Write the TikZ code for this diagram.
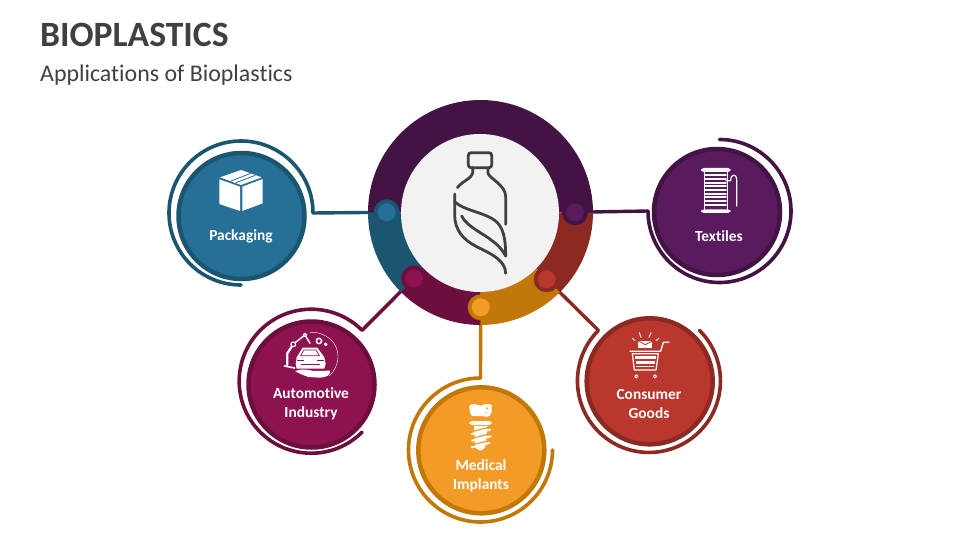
\documentclass[tikz,border=0pt]{standalone}
\usepackage{fontspec}
\setmainfont{Carlito}[Ligatures=NoCommon]
\definecolor{bluef}{HTML}{266F97}\definecolor{blued}{HTML}{1C5570}
\definecolor{maroonf}{HTML}{8F1250}\definecolor{maroond}{HTML}{6D0F3E}
\definecolor{orangef}{HTML}{F29B26}\definecolor{oranged}{HTML}{C17809}
\definecolor{redf}{HTML}{BA372D}\definecolor{redd}{HTML}{8A2A22}
\definecolor{purplef}{HTML}{5A1A5E}\definecolor{purpled}{HTML}{431343}
\definecolor{hubgrey}{HTML}{F2F2F2}\definecolor{ink}{HTML}{404040}
\tikzset{
  disc/.style={circle,draw=#1d,fill=#1f,line width=4.5pt,minimum size=126pt,inner sep=0pt},
  swirl/.style={draw=#1d,line width=3.6pt,line cap=round},
  wire/.style={draw=#1d,line width=3.4pt},
  capdot/.style={circle,fill=#1d,minimum size=26pt,inner sep=0pt},
  dot/.style={circle,fill=#1f,minimum size=18pt,inner sep=0pt},
  lab/.style={text=white,font=\fontsize{15.4}{19}\selectfont\bfseries,align=center},
  bottle/.style={draw=ink,line width=2.8pt,line cap=round,line join=round},
  ico/.style={draw=white,line cap=round,line join=round},
}
\newcommand{\wedgefill}[3]{\fill[#1] (480.5,212.5) ++(#2:112.5pt) arc[start angle=#2,end angle=#3,radius=112.5pt] -- (480.5,212.5) -- cycle;}
\begin{document}
\begin{tikzpicture}[x=1pt,y=1pt,yscale=-1]
\useasboundingbox (0,0) rectangle (960,540);
% titles
\node[anchor=base west,inner sep=0pt,text=ink,font=\fontsize{35.6}{38}\selectfont\bfseries] (title) at (40,47) {BIOPLASTICS};
\node[anchor=base west,inner sep=0pt,text=ink,font=\fontsize{23.9}{26}\selectfont] (subtitle) at (40,82) {Applications of Bioplastics};
% named ends
\coordinate (endP) at (313,213);
\coordinate (endA) at (362.1,330.3);
\coordinate (endM) at (480.5,378);
\coordinate (endC) at (598.4,330.4);
\coordinate (endT) at (648,211);
\coordinate (capP) at (386.7,212.3);
\coordinate (capA) at (414,278.3);
\coordinate (capM) at (480.7,307.3);
\coordinate (capC) at (546.7,279.3);
\coordinate (capT) at (575,212.3);
% connectors
\draw[wire=blue] (capP) -- (endP);
\draw[wire=maroon] (capA) -- (endA);
\draw[wire=orange] (capM) -- (endM);
\draw[wire=red] (capC) -- (endC);
\draw[wire=purple] (capT) -- (endT);
% ring
\wedgefill{purpled}{0}{-180}
\wedgefill{blued}{-180}{-225}
\wedgefill{maroond}{-225}{-270}
\wedgefill{oranged}{-270}{-315}
\wedgefill{redd}{-315}{-360}
\node[capdot=blue] at (capP) {};
\node[capdot=maroon] at (capA) {};
\node[capdot=orange] at (capM) {};
\node[capdot=red] at (capC) {};
\node[capdot=purple] at (capT) {};
\node[circle,fill=hubgrey,minimum size=158pt,inner sep=0pt] (hub) at (480,213) {};
\node[dot=blue] (dotP) at (capP) {};
\node[dot=maroon] (dotA) at (capA) {};
\node[dot=orange] (dotM) at (capM) {};
\node[dot=red] (dotC) at (capC) {};
\node[dot=purple] (dotT) at (capT) {};
% bottle icon
\begin{scope}[shift={(360,90)},scale=1/3]
\draw[bottle] (333,188) -- (387,188) arc[start angle=-90,end angle=0,radius=8] -- (395,225) arc[start angle=0,end angle=90,radius=8] -- (333,233) arc[start angle=90,end angle=180,radius=8] -- (325,196) arc[start angle=180,end angle=270,radius=8] -- cycle;
\draw[bottle] (338,233) -- (338,250) .. controls (335,265) and (305,275) .. (292,293);
\draw[bottle] (384,233) -- (384,250) .. controls (388,265) and (437,285) .. (437,320) -- (437,403);
\draw[bottle] (284,312) -- (284,375) .. controls (284,420) and (310,450) .. (350,470) .. controls (390,490) and (437,510) .. (437,550);
\draw[bottle] (284,335) .. controls (310,360) and (360,365) .. (395,385) .. controls (420,400) and (437,420) .. (437,498);
\draw[bottle] (305,378) .. controls (320,410) and (370,430) .. (400,455) .. controls (420,470) and (430,485) .. (437,498);
\end{scope}
% satellites
\node[disc=blue] (pkg) at (241.5,216) {};
\draw[swirl=blue] (endP) arc[start angle=0,end angle=-270,radius=72pt];
\node[disc=maroon] (auto) at (311.5,384.5) {};
\draw[swirl=maroon] (endA) arc[start angle=-45,end angle=-315,radius=72pt];
\node[disc=orange] (med) at (481.3,450.3) {};
\draw[swirl=orange] (endM) arc[start angle=-90,end angle=-360,radius=72pt];
\node[disc=red] (cons) at (649.7,381.3) {};
\draw[swirl=red] (endC) arc[start angle=-135,end angle=-405,radius=71.5pt];
\node[disc=purple] (tex) at (717,212) {};
\draw[swirl=purple] (719.5,139.5) arc[start angle=-90,end angle=180,radius=71.5pt];
% labels
\node[lab] (lpkg) at (241,236) {Packaging};
\node[lab] (lauto) at (311,404) {Automotive\\Industry};
\node[lab] (lmed) at (481,476) {Medical\\Implants};
\node[lab] (lcons) at (649,404) {Consumer\\Goods};
\node[lab] (ltex) at (719,236) {Textiles};
% box icon
\begin{scope}[shift={(160,130)},scale=1/3]
\fill[white] (178,148) -- (240,170) -- (240,243) -- (178,222) -- cycle;
\fill[white] (247,170) -- (308,147) -- (308,220) -- (247,243) -- cycle;
\fill[white] (180,142) -- (243,120) -- (305,142) -- (243,165) -- cycle;
\draw[bluef,line width=0.8pt] (213,153) -- (272,130);
\draw[bluef,line width=0.8pt] (228,158) -- (286,136);
\end{scope}
% automotive icon
\begin{scope}[shift={(230,300)},scale=1/3]
\draw[white,line width=0.4pt] (240,97) .. controls (290,95) and (325,130) .. (324,170) .. controls (323,195) and (312,215) .. (298,228);
\draw[ico,line width=2.2pt] (172,195) -- (172,160) -- (190,132);
\draw[ico,line width=1.4pt] (190,132) -- (225,105) -- (240,130);
\draw[ico,line width=1.6pt] (163,198) -- (194,204);
\draw[ico,line width=1.2pt,fill=maroonf] (190,133) circle[radius=7];
\draw[ico,line width=1.2pt,fill=maroonf] (225,105) circle[radius=5];
\fill[white] (197,192) -- (200,172) -- (218,143) -- (262,143) -- (283,172) -- (287,192) -- (283,206) -- (200,206) -- cycle;
\draw[maroonf,line width=0.7pt] (222,150) -- (258,150) -- (268,167) -- (212,167) -- cycle;
\draw[maroonf,line width=0.7pt] (202,180) -- (222,180) (262,180) -- (282,180) (212,192) -- (270,192);
\draw[ico,line width=1.6pt,dash pattern=on 2pt off 1pt] (267,123) circle[radius=8];
\draw[ico,line width=1.2pt] (287,133) circle[radius=3.5];
\fill[white] (195,213) .. controls (215,205) and (240,210) .. (250,213) -- (300,212) .. controls (302,225) and (290,232) .. (270,233) -- (235,231) .. controls (220,225) and (205,220) .. (195,213) -- cycle;
\end{scope}
% implant icon
\begin{scope}[shift={(400,370)},scale=1/3]
\fill[white] (208,108) .. controls (215,97) and (235,105) .. (241,107) .. controls (250,105) and (265,97) .. (275,105) -- (275,125) .. controls (270,146) and (255,140) .. (247,138) -- (222,138) .. controls (212,142) and (208,125) .. (208,108) -- cycle;
\fill[orangef] (262,115) circle[radius=3.5] (258,128) circle[radius=2.5];
\fill[white,rounded corners=3pt] (208,153) rectangle (275,165);
\fill[white] (222,168) -- (262,168) -- (258,222) .. controls (256,236) and (246,241) .. (240,241) .. controls (232,241) and (226,236) .. (225,222) -- cycle;
\draw[orangef,line width=1.2pt] (212,186) -- (275,170) (212,206) -- (275,190) (212,226) -- (275,210);
\draw[ico,line width=2pt] (216,192) -- (270,179) (216,212) -- (272,199) (215,232) -- (268,219);
\end{scope}
% cart icon
\begin{scope}[shift={(570,310)},scale=1/3]
\draw[ico,line width=0.9pt] (187,85) -- (195,92) (208,68) -- (213,82) (243,68) -- (237,82) (267,85) -- (258,92);
\fill[white] (205,93) rectangle (247,113);
\draw[redf,line width=0.8pt] (205,93) -- (226,104) -- (247,93);
\draw[ico,line width=1.3pt] (180,124) -- (272,124) -- (280,97) -- (297,97);
\draw[ico,line width=1.2pt] (187,131) -- (265,131) -- (258,180) -- (193,180) -- cycle;
\fill[white] (195,137) rectangle (258,146);
\fill[white] (197,154) rectangle (255,162);
\draw[ico,line width=0.6pt] (199,170) -- (252,170);
\draw[ico,line width=0.9pt] (199,199) circle[radius=5] (255,199) circle[radius=5];
\end{scope}
% spool icon
\begin{scope}[shift={(640,130)},scale=1/3]
\fill[white,rounded corners=3pt] (183,114) rectangle (272,126);
\fill[white,rounded corners=3pt] (183,238) rectangle (272,249);
\draw[ico,line width=1.9pt] (195,136) -- (258,136) (195,147) -- (258,147) (195,158) -- (258,158) (195,169) -- (258,169) (195,180) -- (258,180) (195,191) -- (258,191) (195,202) -- (258,202) (195,213) -- (258,213) (195,224) -- (258,224);
\draw[ico,line width=0.7pt] (193,126) -- (193,238) (261,126) -- (261,238);
\draw[ico,line width=1.2pt] (258,152) -- (272,152) .. controls (272,130) and (290,130) .. (290,150) -- (290,228);
\end{scope}
\end{tikzpicture}
\end{document}
